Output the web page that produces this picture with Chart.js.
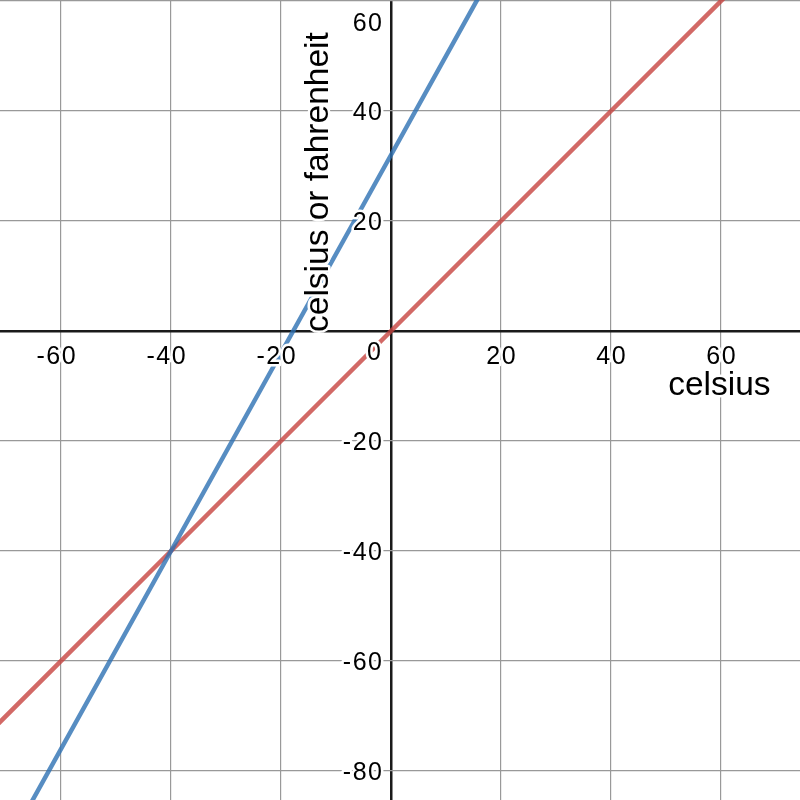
<!DOCTYPE html>
<html>
<head>
<meta charset="utf-8">
<script src="https://cdn.jsdelivr.net/npm/chart.js@4"></script>
<style>
  html, body { margin: 0; padding: 0; background: #fff; }
  #wrap { width: 800px; height: 800px; }
</style>
</head>
<body>
<div id="wrap"><canvas id="grafico"></canvas></div>
<script>
// pontos (celsius -> celsius, celsius -> fahrenheit)
const celsius = [-80, -40, 0, 40, 80];
const celsiusY = [-80, -40, 0, 40, 80];
const fahrenheit = [-112, -40, 32, 104, 176];

const xTicks = [-60, -40, -20, 20, 40, 60];
const yTicks = [60, 40, 20, -20, -40, -60, -80];

const xMin = -71.09, xMax = 74.36;
const yMin = -85.27, yMax = 60.18;

const FONTE = '"Liberation Sans", Arial, sans-serif';
const ESPACO = 1.5; // espaçamento entre letras dos números

function escreve(ctx, txt, x, y, align) {
    ctx.textAlign = align;
    ctx.textBaseline = 'alphabetic';
    ctx.lineJoin = 'round';
    ctx.lineWidth = 5;
    ctx.strokeStyle = '#fff';
    ctx.strokeText(txt, x, y);
    ctx.fillStyle = '#000';
    ctx.fillText(txt, x, y);
}

// rótulos dos eixos no estilo desmos (em cima das retas)
const rotulos = {
    id: 'rotulos',
    afterDatasetsDraw(chart) {
        const ctx = chart.ctx;
        const xs = chart.scales.x, ys = chart.scales.y;
        const x0 = xs.getPixelForValue(0), y0 = ys.getPixelForValue(0);
        ctx.save();
        ctx.font = '25px ' + FONTE;
        ctx.letterSpacing = ESPACO + 'px';
        const menos = ctx.measureText('-').width;
        xTicks.forEach(v => {
            let px = xs.getPixelForValue(v) + ESPACO / 2;
            if (v < 0) px -= menos / 2;
            escreve(ctx, String(v), px, y0 + 33, 'center');
        });
        yTicks.forEach(v => {
            const py = ys.getPixelForValue(v);
            const base = Math.max(py + 9, 31);
            escreve(ctx, String(v), x0 - 9 + ESPACO, base, 'right');
        });
        escreve(ctx, '0', x0 - 10 + ESPACO, y0 + 29, 'right');

        // títulos
        ctx.letterSpacing = '0px';
        ctx.font = '33.5px ' + FONTE;
        escreve(ctx, 'celsius', xs.getPixelForValue(50.4), y0 + 64, 'left');
        ctx.translate(x0 - 63, y0 + 1);
        ctx.rotate(-Math.PI / 2);
        escreve(ctx, 'celsius or fahrenheit', 0, 0, 'left');
        ctx.restore();
    }
};

const gradeCor = c => c.tick.value === 0 ? '#1a1a1a' : '#999';
const gradeLarg = c => c.tick.value === 0 ? 2.5 : 1.2;

new Chart(document.getElementById('grafico'), {
    type: 'scatter',
    data: {
        datasets: [
            {
                label: 'celsius',
                data: celsius.map((c, i) => ({ x: c, y: celsiusY[i] })),
                showLine: true,
                borderColor: 'rgba(199, 68, 64, 0.8)',
                borderWidth: 4.5,
                pointRadius: 0,
                order: 2
            },
            {
                label: 'fahrenheit',
                data: celsius.map((c, i) => ({ x: c, y: fahrenheit[i] })),
                showLine: true,
                borderColor: 'rgba(45, 112, 179, 0.8)',
                borderWidth: 4.5,
                pointRadius: 0,
                order: 1
            }
        ]
    },
    options: {
        responsive: true,
        maintainAspectRatio: false,
        animation: false,
        layout: { padding: 0 },
        plugins: { legend: { display: false }, tooltip: { enabled: false } },
        scales: {
            x: {
                type: 'linear',
                min: xMin, max: xMax,
                ticks: { stepSize: 20, display: false, includeBounds: false },
                grid: { color: gradeCor, lineWidth: gradeLarg, drawTicks: false },
                border: { display: false }
            },
            y: {
                type: 'linear',
                min: yMin, max: yMax,
                ticks: { stepSize: 20, display: false, includeBounds: false },
                grid: { color: gradeCor, lineWidth: gradeLarg, drawTicks: false },
                border: { display: false }
            }
        }
    },
    plugins: [rotulos]
});
</script>
</body>
</html>
